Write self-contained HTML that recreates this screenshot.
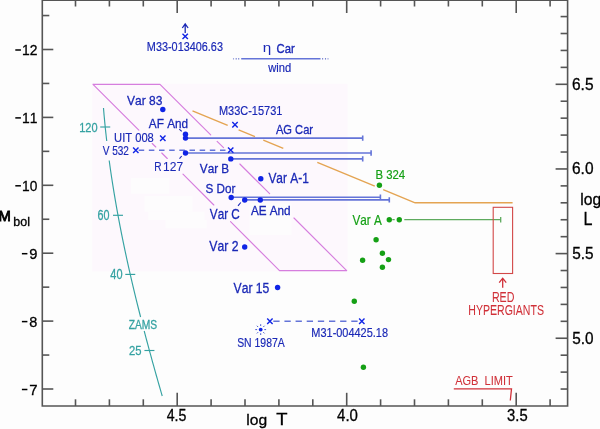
<!DOCTYPE html>
<html><head><meta charset="utf-8"><style>
html,body{margin:0;padding:0;background:#fdfdfd;}
body{width:600px;height:429px;overflow:hidden;font-family:"Liberation Sans",sans-serif;}
svg{display:block;will-change:transform;}
</style></head><body>
<svg width="600" height="429" viewBox="0 0 600 429">
<rect width="600" height="429" fill="#fdfdfd"/>
<rect x="92.2" y="83.8" width="255.3" height="187.6" fill="#fdf8fd"/>
<rect x="131" y="178" width="38.2" height="15.7" fill="#fdfcfd"/>
<rect x="144.5" y="196" width="48" height="15.7" fill="#fdfcfd"/>
<rect x="148.2" y="211.7" width="56.3" height="8.3" fill="#fdfcfd"/>
<rect x="165.5" y="220" width="41.2" height="8.2" fill="#fdfcfd"/>
<rect x="249.5" y="203.5" width="42" height="31.5" fill="#fdfcfd"/>
<g stroke="#555555" stroke-width="1.6" fill="none">
<path d="M42.3 0 V406.0 H567.6 V0"/>
<path d="M42.3 0.2 H567.6"/>
<path d="M75.50 406.0 v-6.7"/>
<path d="M75.50 0 v6.5"/>
<path d="M109.40 406.0 v-6.7"/>
<path d="M109.40 0 v6.5"/>
<path d="M143.30 406.0 v-6.7"/>
<path d="M143.30 0 v6.5"/>
<path d="M177.20 406.0 v-13.2"/>
<path d="M177.20 0 v13"/>
<path d="M211.10 406.0 v-6.7"/>
<path d="M211.10 0 v6.5"/>
<path d="M245.00 406.0 v-6.7"/>
<path d="M245.00 0 v6.5"/>
<path d="M278.90 406.0 v-6.7"/>
<path d="M278.90 0 v6.5"/>
<path d="M312.80 406.0 v-6.7"/>
<path d="M312.80 0 v6.5"/>
<path d="M346.70 406.0 v-13.2"/>
<path d="M346.70 0 v13"/>
<path d="M380.60 406.0 v-6.7"/>
<path d="M380.60 0 v6.5"/>
<path d="M414.50 406.0 v-6.7"/>
<path d="M414.50 0 v6.5"/>
<path d="M448.40 406.0 v-6.7"/>
<path d="M448.40 0 v6.5"/>
<path d="M482.30 406.0 v-6.7"/>
<path d="M482.30 0 v6.5"/>
<path d="M516.20 406.0 v-13.2"/>
<path d="M516.20 0 v13"/>
<path d="M550.10 406.0 v-6.7"/>
<path d="M550.10 0 v6.5"/>
<path d="M42.3 15.55 h7"/>
<path d="M42.3 49.50 h11"/>
<path d="M42.3 83.45 h7"/>
<path d="M42.3 117.40 h11"/>
<path d="M42.3 151.35 h7"/>
<path d="M42.3 185.30 h11"/>
<path d="M42.3 219.25 h7"/>
<path d="M42.3 253.20 h11"/>
<path d="M42.3 287.15 h7"/>
<path d="M42.3 321.10 h11"/>
<path d="M42.3 355.05 h7"/>
<path d="M42.3 389.00 h11"/>
<path d="M567.6 16.58 h-7"/>
<path d="M567.6 33.51 h-7"/>
<path d="M567.6 50.44 h-7"/>
<path d="M567.6 67.37 h-7"/>
<path d="M567.6 84.30 h-12"/>
<path d="M567.6 101.23 h-7"/>
<path d="M567.6 118.16 h-7"/>
<path d="M567.6 135.09 h-7"/>
<path d="M567.6 152.02 h-7"/>
<path d="M567.6 168.95 h-12"/>
<path d="M567.6 185.88 h-7"/>
<path d="M567.6 202.81 h-7"/>
<path d="M567.6 219.74 h-7"/>
<path d="M567.6 236.67 h-7"/>
<path d="M567.6 253.60 h-12"/>
<path d="M567.6 270.53 h-7"/>
<path d="M567.6 287.46 h-7"/>
<path d="M567.6 304.39 h-7"/>
<path d="M567.6 321.32 h-7"/>
<path d="M567.6 338.25 h-12"/>
<path d="M567.6 355.18 h-7"/>
<path d="M567.6 372.11 h-7"/>
<path d="M567.6 389.04 h-7"/>
</g>
<path d="M93 84.3 L160 84.3 M279.5 270.6 L346.7 270.6 M93.00 84.3 L138.85 130.1 M152.26 143.5 L155.76 147 M161.77 153 L167.27 158.5 M182.99 174.2 L213.82 205 M230.54 221.7 L279.49 270.6 M160.00 84.3 L210.70 134.9 M217.11 141.3 L223.53 147.7 M239.86 164 L269.62 193.7 M293.97 218 L346.67 270.6 " fill="none" stroke="#d67ede" stroke-width="1.15" stroke-linecap="round"/>
<g stroke="#35a2a2" stroke-width="1.15" fill="none">
<path d="M103.49 108.00 L103.63 109.74 L103.78 111.47 L103.92 113.21 L104.07 114.95 L104.23 116.68 L104.39 118.42 L104.55 120.16 L104.71 121.89 L104.88 123.63 L105.05 125.37 L105.23 127.11 L105.40 128.84 L105.59 130.58 L105.77 132.32 L105.96 134.05 L106.15 135.79 L106.34 137.53 L106.54 139.26 L106.74 141.00 M109.19 160.50 L110.33 168.74 L111.55 176.97 L112.82 185.21 L114.16 193.45 L115.56 201.68 L117.01 209.92 L118.52 218.16 L120.09 226.39 L121.71 234.63 L123.39 242.87 L125.12 251.11 L126.89 259.34 L128.71 267.58 L130.58 275.82 L132.50 284.05 L134.46 292.29 L136.46 300.53 L138.50 308.76 L140.58 317.00 M144.20 331.00 L145.10 334.42 L146.01 337.84 L146.92 341.26 L147.84 344.68 L148.77 348.11 L149.69 351.53 L150.63 354.95 L151.57 358.37 L152.51 361.79 L153.46 365.21 L154.42 368.63 L155.38 372.05 L156.34 375.47 L157.31 378.89 L158.29 382.32 L159.27 385.74 L160.25 389.16 L161.24 392.58 L162.23 396.00"/>
<path d="M100.22 127.0 h10"/>
<path d="M112.99 215.3 h10"/>
<path d="M125.26 274.4 h10"/>
<path d="M144.42 350.5 h10"/>
</g>
<path d="M192.5 110.80 L227.7 125.36 M238.6 129.86 L255 136.64 M263.3 140.08 L283.3 148.35 M317.3 162.40 L374.8 186.18 M383.2 189.65 L414.5 202.60 M414.5 202.8 H512.6" stroke="#e4a452" stroke-width="1.4" fill="none"/>
<path d="M241.2 58.8 H320.5" stroke="#6474d8" stroke-width="1.5"/>
<rect x="232.95" y="58.05" width="1.1" height="1.5" fill="#5a68c8" fill-opacity="0.6"/>
<rect x="235.65" y="58.05" width="1.1" height="1.5" fill="#5a68c8" fill-opacity="0.85"/>
<rect x="238.15" y="58.05" width="1.1" height="1.5" fill="#5a68c8" fill-opacity="0.85"/>
<rect x="322.05" y="58.05" width="1.1" height="1.5" fill="#5a68c8" fill-opacity="0.85"/>
<rect x="324.95" y="58.05" width="1.1" height="1.5" fill="#5a68c8" fill-opacity="0.85"/>
<rect x="327.45" y="58.05" width="1.1" height="1.5" fill="#5a68c8" fill-opacity="0.6"/>
<g stroke="#6474d8" stroke-width="1.6" fill="none">
<path d="M185.5 138.1 H362.7 M362.7 135.4 v5.4"/>
<path d="M185.5 153.0 H371.1 M371.1 150.3 v5.4"/>
<path d="M230.8 158.9 H362.7 M362.7 156.20000000000002 v5.4"/>
<path d="M231.2 197.3 H380.4 M380.4 194.60000000000002 v5.4"/>
<path d="M244.7 199.9 H389.3 M389.3 197.20000000000002 v5.4"/>
</g>
<path d="M138.7 150.2 H228" stroke="#6474d8" stroke-width="1.4" stroke-dasharray="5.5 4.66"/>
<path d="M273.3 321.2 H359" stroke="#6474d8" stroke-width="1.4" stroke-dasharray="6.3 4.84"/>
<path d="M185.2 24.5 V33 M182.3 28 L185.2 23.8 L188.1 28" stroke="#1a28b6" stroke-width="1.3" fill="none"/>
<path d="M179.3 129.1 L181.7 131.4 M181.7 156 L179.5 158.6 M238 205.8 L240.8 202.5" stroke="#1a28b6" stroke-width="1.1"/>
<path d="M182.50 33.70 L187.90 39.10 M182.50 39.10 L187.90 33.70" stroke="#1024e6" stroke-width="1.4"/>
<path d="M232.30 122.00 L237.70 127.40 M232.30 127.40 L237.70 122.00" stroke="#1024e6" stroke-width="1.4"/>
<path d="M160.10 135.50 L165.50 140.90 M160.10 140.90 L165.50 135.50" stroke="#1024e6" stroke-width="1.4"/>
<path d="M133.10 147.60 L138.50 153.00 M133.10 153.00 L138.50 147.60" stroke="#1024e6" stroke-width="1.4"/>
<path d="M228.00 147.40 L233.40 152.80 M228.00 152.80 L233.40 147.40" stroke="#1024e6" stroke-width="1.4"/>
<path d="M267.20 318.50 L272.60 323.90 M267.20 323.90 L272.60 318.50" stroke="#1024e6" stroke-width="1.4"/>
<path d="M359.10 318.50 L364.50 323.90 M359.10 323.90 L364.50 318.50" stroke="#1024e6" stroke-width="1.4"/>
<circle cx="162.8" cy="109.5" r="2.7" fill="#1024e6"/>
<circle cx="185.5" cy="134.3" r="2.7" fill="#1024e6"/>
<circle cx="185.5" cy="138.1" r="2.7" fill="#1024e6"/>
<circle cx="185.5" cy="153" r="2.7" fill="#1024e6"/>
<circle cx="230.8" cy="158.9" r="2.7" fill="#1024e6"/>
<circle cx="260.8" cy="178.7" r="2.7" fill="#1024e6"/>
<circle cx="231.2" cy="197.5" r="2.7" fill="#1024e6"/>
<circle cx="244.7" cy="200" r="2.7" fill="#1024e6"/>
<circle cx="260.3" cy="200" r="2.7" fill="#1024e6"/>
<circle cx="244.7" cy="247" r="2.7" fill="#1024e6"/>
<circle cx="277.6" cy="287.5" r="2.7" fill="#1024e6"/>
<circle cx="260.7" cy="329.6" r="1.9" fill="#1024e6"/>
<path d="M264.30 329.60 L266.10 329.60 M263.25 332.15 L264.52 333.42 M260.70 333.20 L260.70 335.00 M258.15 332.15 L256.88 333.42 M257.10 329.60 L255.30 329.60 M258.15 327.05 L256.88 325.78 M260.70 326.00 L260.70 324.20 M263.25 327.05 L264.52 325.78" stroke="#4a5ad0" stroke-width="1.0"/>
<path d="M392.3 219.7 H394.7 M404.3 219.7 H500.7 M500.7 216.9 V222.5" stroke="#5eaa5e" stroke-width="1.3"/>
<circle cx="379.4" cy="185.2" r="2.7" fill="#15a015"/>
<circle cx="389.3" cy="219.7" r="2.7" fill="#15a015"/>
<circle cx="399.3" cy="219.7" r="2.7" fill="#15a015"/>
<circle cx="376.1" cy="239.8" r="2.7" fill="#15a015"/>
<circle cx="382.4" cy="253.3" r="2.7" fill="#15a015"/>
<circle cx="388.5" cy="259.6" r="2.7" fill="#15a015"/>
<circle cx="362.6" cy="260.3" r="2.7" fill="#15a015"/>
<circle cx="382.4" cy="267.3" r="2.7" fill="#15a015"/>
<circle cx="354.3" cy="301.2" r="2.7" fill="#15a015"/>
<circle cx="363.4" cy="367.2" r="2.7" fill="#15a015"/>
<rect x="493.2" y="207.3" width="19.4" height="66.2" fill="none" stroke="#d24848" stroke-width="1.1"/>
<path d="M502.7 279 V287.7 M499.2 282.6 L502.7 278.2 L506.2 282.6" stroke="#d03038" stroke-width="1.3" fill="none"/>
<path d="M453.8 388.9 H511.5 L510.3 400.5" stroke="#d03038" stroke-width="1.3" fill="none"/>
<g font-family="Liberation Sans, sans-serif" style="font-kerning:none">
<rect x="15.3" y="49.25" width="5.60" height="1.5" fill="#000000"/>
<text x="22.04" y="55.00" font-size="15.18" fill="#000000" textLength="15.46" lengthAdjust="spacingAndGlyphs" stroke="#000000" stroke-width="0.3">12</text>
<rect x="15.3" y="117.15" width="5.60" height="1.5" fill="#000000"/>
<text x="22.04" y="122.90" font-size="15.41" fill="#000000" textLength="15.43" lengthAdjust="spacingAndGlyphs" stroke="#000000" stroke-width="0.3">11</text>
<rect x="15.3" y="185.05" width="5.60" height="1.5" fill="#000000"/>
<text x="22.05" y="190.80" font-size="15.18" fill="#000000" textLength="15.28" lengthAdjust="spacingAndGlyphs" stroke="#000000" stroke-width="0.3">10</text>
<rect x="21.9" y="252.95" width="5.50" height="1.5" fill="#000000"/>
<text x="29.31" y="258.70" font-size="15.18" fill="#000000" textLength="8.19" lengthAdjust="spacingAndGlyphs" stroke="#000000" stroke-width="0.3">9</text>
<rect x="21.9" y="320.85" width="5.50" height="1.5" fill="#000000"/>
<text x="29.37" y="326.60" font-size="15.18" fill="#000000" textLength="8.06" lengthAdjust="spacingAndGlyphs" stroke="#000000" stroke-width="0.3">8</text>
<rect x="21.9" y="388.75" width="5.50" height="1.5" fill="#000000"/>
<text x="29.23" y="394.50" font-size="15.41" fill="#000000" textLength="8.32" lengthAdjust="spacingAndGlyphs" stroke="#000000" stroke-width="0.3">7</text>
<text x="572.01" y="89.55" font-size="16.18" fill="#000000" textLength="21.54" lengthAdjust="spacingAndGlyphs" stroke="#000000" stroke-width="0.3">6.5</text>
<text x="572.02" y="174.20" font-size="16.18" fill="#000000" textLength="21.49" lengthAdjust="spacingAndGlyphs" stroke="#000000" stroke-width="0.3">6.0</text>
<text x="572.18" y="258.85" font-size="16.42" fill="#000000" textLength="21.36" lengthAdjust="spacingAndGlyphs" stroke="#000000" stroke-width="0.3">5.5</text>
<text x="572.19" y="343.50" font-size="16.18" fill="#000000" textLength="21.31" lengthAdjust="spacingAndGlyphs" stroke="#000000" stroke-width="0.3">5.0</text>
<text x="166.67" y="420.70" font-size="15.84" fill="#000000" textLength="19.72" lengthAdjust="spacingAndGlyphs" stroke="#000000" stroke-width="0.3">4.5</text>
<text x="337.06" y="420.70" font-size="15.61" fill="#000000" textLength="20.83" lengthAdjust="spacingAndGlyphs" stroke="#000000" stroke-width="0.3">4.0</text>
<text x="507.04" y="420.70" font-size="15.61" fill="#000000" textLength="20.59" lengthAdjust="spacingAndGlyphs" stroke="#000000" stroke-width="0.3">3.5</text>
<text x="246.35" y="425.00" font-size="15.46" fill="#000000" textLength="20.86" lengthAdjust="spacingAndGlyphs" stroke="#000000" stroke-width="0.3">log</text>
<text x="276.19" y="425.00" font-size="15.99" fill="#000000" textLength="11.24" lengthAdjust="spacingAndGlyphs" stroke="#000000" stroke-width="0.3">T</text>
<text x="-1.51" y="221.10" font-size="15.55" fill="#000000" textLength="12.33" lengthAdjust="spacingAndGlyphs" stroke="#000000" stroke-width="0.9">M</text>
<text x="13.30" y="225.70" font-size="12.14" fill="#000000" textLength="16.64" lengthAdjust="spacingAndGlyphs" stroke="#000000" stroke-width="0.3">bol</text>
<text x="580.34" y="204.60" font-size="15.87" fill="#000000" textLength="20.97" lengthAdjust="spacingAndGlyphs" stroke="#000000" stroke-width="0.3">log</text>
<text x="583.58" y="224.70" font-size="18.31" fill="#000000" textLength="8.96" lengthAdjust="spacingAndGlyphs" stroke="#000000" stroke-width="0.3">L</text>
<text x="146.86" y="50.88" font-size="13.00" fill="#1a28b6" textLength="76.07" lengthAdjust="spacingAndGlyphs" stroke="#1a28b6" stroke-width="0.18">M33-013406.63</text>
<text x="127.10" y="104.68" font-size="13.58" fill="#1a28b6" textLength="35.28" lengthAdjust="spacingAndGlyphs" stroke="#1a28b6" stroke-width="0.3">Var 83</text>
<text x="218.95" y="115.18" font-size="13.00" fill="#1a28b6" textLength="63.44" lengthAdjust="spacingAndGlyphs" stroke="#1a28b6" stroke-width="0.18">M33C-15731</text>
<text x="148.83" y="127.98" font-size="13.63" fill="#1a28b6" textLength="39.28" lengthAdjust="spacingAndGlyphs" stroke="#1a28b6" stroke-width="0.3">AF And</text>
<text x="275.93" y="134.28" font-size="13.43" fill="#1a28b6" textLength="37.11" lengthAdjust="spacingAndGlyphs" stroke="#1a28b6" stroke-width="0.3">AG Car</text>
<text x="114.09" y="142.48" font-size="12.72" fill="#1a28b6" textLength="39.75" lengthAdjust="spacingAndGlyphs" stroke="#1a28b6" stroke-width="0.18">UIT 008</text>
<text x="102.71" y="155.38" font-size="13.58" fill="#1a28b6" textLength="26.25" lengthAdjust="spacingAndGlyphs" stroke="#1a28b6" stroke-width="0.18">V 532</text>
<text x="199.80" y="172.98" font-size="12.91" fill="#1a28b6" textLength="29.37" lengthAdjust="spacingAndGlyphs" stroke="#1a28b6" stroke-width="0.3">Var B</text>
<text x="268.40" y="182.98" font-size="13.92" fill="#1a28b6" textLength="40.43" lengthAdjust="spacingAndGlyphs" stroke="#1a28b6" stroke-width="0.3">Var A-1</text>
<text x="205.42" y="192.98" font-size="13.43" fill="#1a28b6" textLength="29.93" lengthAdjust="spacingAndGlyphs" stroke="#1a28b6" stroke-width="0.3">S Dor</text>
<text x="209.80" y="218.78" font-size="14.58" fill="#1a28b6" textLength="30.00" lengthAdjust="spacingAndGlyphs" stroke="#1a28b6" stroke-width="0.3">Var C</text>
<text x="250.93" y="214.98" font-size="12.81" fill="#1a28b6" textLength="39.68" lengthAdjust="spacingAndGlyphs" stroke="#1a28b6" stroke-width="0.3">AE And</text>
<text x="209.30" y="251.28" font-size="13.86" fill="#1a28b6" textLength="29.17" lengthAdjust="spacingAndGlyphs" stroke="#1a28b6" stroke-width="0.3">Var 2</text>
<text x="233.60" y="292.58" font-size="14.07" fill="#1a28b6" textLength="35.76" lengthAdjust="spacingAndGlyphs" stroke="#1a28b6" stroke-width="0.3">Var 15</text>
<text x="237.18" y="346.88" font-size="13.15" fill="#1a28b6" textLength="47.49" lengthAdjust="spacingAndGlyphs" stroke="#1a28b6" stroke-width="0.18">SN 1987A</text>
<text x="311.35" y="336.88" font-size="13.58" fill="#1a28b6" textLength="76.67" lengthAdjust="spacingAndGlyphs" stroke="#1a28b6" stroke-width="0.18">M31-004425.18</text>
<text x="268.27" y="72.18" font-size="12.94" fill="#1a28b6" textLength="23.00" lengthAdjust="spacingAndGlyphs" stroke="#1a28b6" stroke-width="0.18">wind</text>
<text x="154.37" y="170.88" font-size="12.62" fill="#1a28b6" textLength="7.30" lengthAdjust="spacingAndGlyphs" stroke="#1a28b6" stroke-width="0.08">R</text>
<text x="163.09" y="170.88" font-size="12.43" fill="#1a28b6" textLength="20.02" lengthAdjust="spacingAndGlyphs" stroke="#1a28b6" stroke-width="0.08">127</text>
<text x="262.76" y="52.30" font-size="12.45" fill="#1a28b6" textLength="8.48" lengthAdjust="spacingAndGlyphs" stroke="#1a28b6" stroke-width="0">η</text>
<text x="276.58" y="52.86" font-size="12.98" fill="#1a28b6" textLength="18.16" lengthAdjust="spacingAndGlyphs" stroke="#1a28b6" stroke-width="0.35">Car</text>
<text x="375.52" y="179.18" font-size="13.58" fill="#15a015" textLength="29.66" lengthAdjust="spacingAndGlyphs" stroke="#15a015" stroke-width="0.2">B 324</text>
<text x="352.50" y="224.88" font-size="14.36" fill="#15a015" textLength="29.27" lengthAdjust="spacingAndGlyphs" stroke="#15a015" stroke-width="0.2">Var A</text>
<text x="491.88" y="301.88" font-size="13.78" fill="#d03038" textLength="22.48" lengthAdjust="spacingAndGlyphs" stroke="#d03038" stroke-width="0.05">RED</text>
<text x="468.28" y="315.48" font-size="13.86" fill="#d03038" textLength="75.65" lengthAdjust="spacingAndGlyphs" stroke="#d03038" stroke-width="0.05">HYPERGIANTS</text>
<text x="455.13" y="384.98" font-size="12.72" fill="#d03038" textLength="57.67" lengthAdjust="spacingAndGlyphs" stroke="#d03038" stroke-width="0.05" xml:space="preserve">AGB  LIMIT</text>
<text x="79.21" y="131.78" font-size="13.58" fill="#35a2a2" textLength="18.37" lengthAdjust="spacingAndGlyphs" stroke="#35a2a2" stroke-width="0.3">120</text>
<text x="97.60" y="220.28" font-size="14.44" fill="#35a2a2" textLength="11.97" lengthAdjust="spacingAndGlyphs" stroke="#35a2a2" stroke-width="0.3">60</text>
<text x="110.30" y="279.48" font-size="13.72" fill="#35a2a2" textLength="12.18" lengthAdjust="spacingAndGlyphs" stroke="#35a2a2" stroke-width="0.3">40</text>
<text x="128.72" y="329.48" font-size="13.15" fill="#35a2a2" textLength="28.50" lengthAdjust="spacingAndGlyphs" stroke="#35a2a2" stroke-width="0.3">ZAMS</text>
<text x="128.98" y="355.18" font-size="13.15" fill="#35a2a2" textLength="12.54" lengthAdjust="spacingAndGlyphs" stroke="#35a2a2" stroke-width="0.3">25</text>
</g>
</svg>
</body></html>
